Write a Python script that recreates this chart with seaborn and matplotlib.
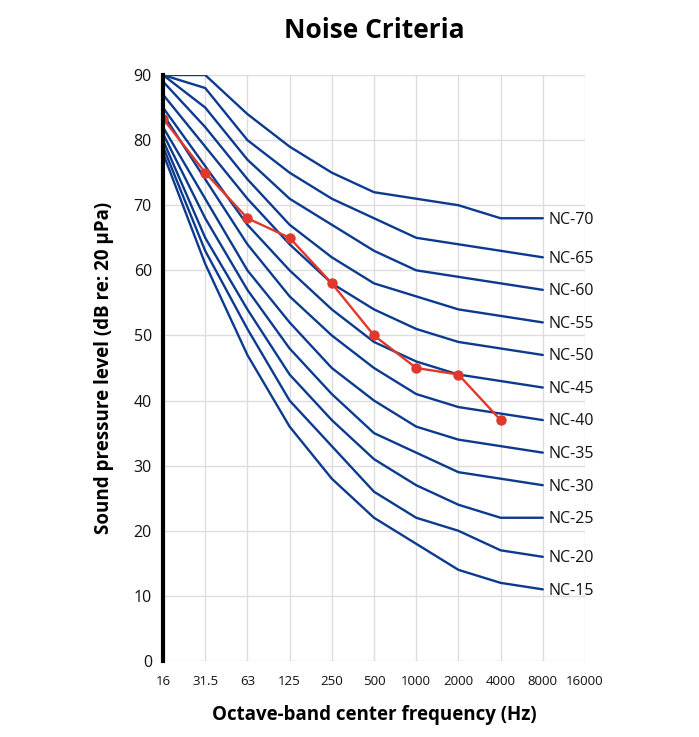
import matplotlib
matplotlib.use("Agg")
import matplotlib.pyplot as plt
import seaborn as sns
import pandas as pd

# ---- data ----
freq_labels = ["16", "31.5", "63", "125", "250", "500", "1000", "2000", "4000", "8000", "16000"]
curve_freqs = ["16", "31.5", "63", "125", "250", "500", "1000", "2000", "4000", "8000"]

nc_names = ["NC-70", "NC-65", "NC-60", "NC-55", "NC-50", "NC-45",
            "NC-40", "NC-35", "NC-30", "NC-25", "NC-20", "NC-15"]
nc70 = [90, 90, 84, 79, 75, 72, 71, 70, 68, 68]
nc65 = [90, 88, 80, 75, 71, 68, 65, 64, 63, 62]
nc60 = [90, 85, 77, 71, 67, 63, 60, 59, 58, 57]
nc55 = [89, 82, 74, 67, 62, 58, 56, 54, 53, 52]
nc50 = [87, 79, 71, 64, 58, 54, 51, 49, 48, 47]
nc45 = [85, 76, 67, 60, 54, 49, 46, 44, 43, 42]
nc40 = [84, 74, 64, 56, 50, 45, 41, 39, 38, 37]
nc35 = [82, 71, 60, 52, 45, 40, 36, 34, 33, 32]
nc30 = [81, 68, 57, 48, 41, 35, 32, 29, 28, 27]
nc25 = [80, 65, 54, 44, 37, 31, 27, 24, 22, 22]
nc20 = [79, 63, 51, 40, 33, 26, 22, 20, 17, 16]
nc15 = [78, 61, 47, 36, 28, 22, 18, 14, 12, 11]
nc_values = [nc70, nc65, nc60, nc55, nc50, nc45, nc40, nc35, nc30, nc25, nc20, nc15]

measured_freqs = ["16", "31.5", "63", "125", "250", "500", "1000", "2000", "4000"]
measured = [83.3, 75, 68, 65, 58, 50, 45, 44, 37]

# ---- build tables ----
pos = {f: i for i, f in enumerate(freq_labels)}
rows = []
for name, vals in zip(nc_names, nc_values):
    for f, v in zip(curve_freqs, vals):
        rows.append({"curve": name, "x": pos[f], "level": v})
df = pd.DataFrame(rows)
dm = pd.DataFrame({"x": [pos[f] for f in measured_freqs], "level": measured})

navy = "#0b3a8e"
red = "#e0382c"

sns.set_theme(style="white")
plt.rcParams["font.family"] = ["Open Sans", "DejaVu Sans"]

fig = plt.figure(figsize=(6.99, 7.37), dpi=100)
ax = fig.add_axes([163 / 699, 1 - 661 / 737, (585 - 163) / 699, (661 - 75) / 737])

sns.lineplot(data=df, x="x", y="level", units="curve", estimator=None,
             color=navy, lw=1.7, ax=ax, legend=False, zorder=3)
sns.lineplot(data=dm, x="x", y="level", color=red, lw=1.7, marker="o",
             markersize=7.5, markeredgewidth=0, ax=ax, legend=False, zorder=5)

for name, vals in zip(nc_names, nc_values):
    ax.annotate(name, xy=(pos[curve_freqs[-1]], vals[-1]), xytext=(4, -1),
                textcoords="offset points", va="center", ha="left",
                fontsize=11.5, color="#111111", annotation_clip=False)

ax.set_xlim(0, len(freq_labels) - 1)
ax.set_ylim(0, 90)
ax.set_xticks(range(len(freq_labels)))
ax.set_xticklabels(freq_labels, fontsize=9.5, color="#111111")
ax.set_yticks(range(0, 91, 10))
ax.tick_params(axis="y", labelsize=11.5, colors="#111111", length=0, pad=8)
ax.tick_params(axis="x", length=0, pad=10)

ax.grid(True, color="#dddddd", lw=1)
ax.set_axisbelow(True)
for s in ["top", "right", "bottom"]:
    ax.spines[s].set_visible(False)
ax.spines["left"].set_color("black")
ax.spines["left"].set_linewidth(3)
ax.spines["left"].set_zorder(6)

ax.set_xlabel("Octave-band center frequency (Hz)", fontsize=13.5, fontweight="bold",
              labelpad=12, color="black")
ax.set_ylabel("Sound pressure level (dB re: 20 µPa)", fontsize=13.5, fontweight="bold",
              labelpad=14, color="black")
fig.text((163 + 585) / 2 / 699, 1 - 30 / 737, "Noise Criteria",
         ha="center", va="center", fontsize=19, fontweight="bold", color="black")

fig.savefig("out.png", dpi=100)
